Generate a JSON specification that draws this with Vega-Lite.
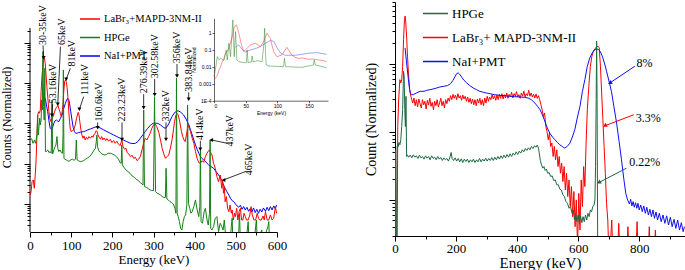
{
"$schema": "https://vega.github.io/schema/vega-lite/v6.json",
"padding": {"left": 0, "top": 0, "right": 2, "bottom": 0},
"bounds": "flush",
"spacing": 118,
"config": {
  "font": "Liberation Serif",
  "view": {"stroke": null},
  "axis": {"labelFont": "Liberation Serif", "titleFont": "Liberation Serif", "titleFontWeight": "normal", "labelFontWeight": "normal", "labelColor": "black", "titleColor": "black", "domainColor": "black", "tickColor": "black", "grid": false},
  "legend": {"labelFont": "Liberation Serif", "labelColor": "black"}
},
"resolve": {"scale": {"color": "independent"}, "legend": {"color": "independent"}},
"datasets": {
  "lRed": [
{"E":1,"v":0.000167},{"E":3,"v":0.000223},{"E":5,"v":0.000359},{"E":8,"v":0.000395},{"E":10.5,"v":0.000245},{"E":13,"v":0.000578},{"E":15,"v":0.00136},{"E":17,"v":0.0057},{"E":19,"v":0.0163},{"E":21,"v":0.0196},{"E":23,"v":0.0179},{"E":25,"v":0.0216},{"E":27,"v":0.0617},{"E":29,"v":0.146},{"E":31.5,"v":0.284},{"E":33,"v":0.378},{"E":35,"v":0.416},{"E":37,"v":0.313},{"E":39,"v":0.16},{"E":41,"v":0.0822},{"E":44,"v":0.0349},{"E":46,"v":0.0196},{"E":48,"v":0.0135},{"E":51,"v":0.0111},{"E":53,"v":0.0122},{"E":55,"v":0.0143},{"E":57.5,"v":0.0163},{"E":61,"v":0.0216},{"E":64,"v":0.0248},{"E":68,"v":0.0278},{"E":72,"v":0.0204},{"E":76,"v":0.0148},{"E":78,"v":0.0196},{"E":80,"v":0.0288},{"E":82,"v":0.0617},{"E":84,"v":0.109},{"E":86,"v":0.12},{"E":88,"v":0.109},{"E":90,"v":0.0792},{"E":92,"v":0.0464},{"E":94,"v":0.0216},{"E":96,"v":0.0111},{"E":98,"v":0.00716},{"E":100,"v":0.00627},{"E":103,"v":0.00664},{"E":106,"v":0.0069},{"E":110,"v":0.00919},{"E":113,"v":0.0135},{"E":117,"v":0.0189},{"E":119,"v":0.0163},{"E":121,"v":0.0111},{"E":124,"v":0.00664},{"E":126,"v":0.00518},{"E":129,"v":0.00429},{"E":131,"v":0.0049},{"E":134,"v":0.00389},{"E":137,"v":0.00454},{"E":140,"v":0.00405},{"E":143,"v":0.00471},{"E":147,"v":0.00429},{"E":150,"v":0.0049},{"E":153,"v":0.00454},{"E":155,"v":0.00518},{"E":158,"v":0.0057},{"E":161,"v":0.00664},{"E":163,"v":0.00627},{"E":165,"v":0.00518},{"E":168,"v":0.00454},{"E":171,"v":0.00405},{"E":174,"v":0.00471},{"E":177,"v":0.00389},{"E":180,"v":0.00437},{"E":184,"v":0.00375},{"E":187,"v":0.00421},{"E":191,"v":0.00361},{"E":195,"v":0.00405},{"E":199,"v":0.00334},{"E":203,"v":0.00375},{"E":207,"v":0.00322},{"E":211,"v":0.00361},{"E":215,"v":0.00304},{"E":219,"v":0.00282},{"E":223,"v":0.00389},{"E":226,"v":0.00266},{"E":230,"v":0.00228},{"E":233,"v":0.00242},{"E":236,"v":0.00189},{"E":240,"v":0.00175},{"E":244,"v":0.0015},{"E":248,"v":0.00162},{"E":252,"v":0.00136},{"E":256,"v":0.00144},{"E":260,"v":0.00119},{"E":264,"v":0.00129},{"E":268,"v":0.0015},{"E":272,"v":0.0022},{"E":276,"v":0.00322},{"E":280,"v":0.00429},{"E":284,"v":0.00389},{"E":288,"v":0.00471},{"E":292,"v":0.0057},{"E":296,"v":0.00758},{"E":300,"v":0.00919},{"E":304,"v":0.00973},{"E":308,"v":0.00834},{"E":313,"v":0.00592},{"E":317,"v":0.00389},{"E":321,"v":0.00242},{"E":325,"v":0.00175},{"E":329,"v":0.00136},{"E":333,"v":0.0015},{"E":337,"v":0.00165},{"E":341,"v":0.00242},{"E":345,"v":0.00389},{"E":349,"v":0.00758},{"E":351,"v":0.0111},{"E":354,"v":0.0154},{"E":357,"v":0.0179},{"E":360,"v":0.0163},{"E":363,"v":0.0122},{"E":365,"v":0.00919},{"E":368,"v":0.00627},{"E":371,"v":0.00471},{"E":374,"v":0.00389},{"E":377,"v":0.00354},{"E":380,"v":0.00518},{"E":384,"v":0.00919},{"E":387,"v":0.00758},{"E":390,"v":0.00627},{"E":394,"v":0.00429},{"E":398,"v":0.00322},{"E":402,"v":0.002},{"E":406,"v":0.00136},{"E":410,"v":0.00106},{"E":414,"v":0.00102},{"E":418,"v":0.00119},{"E":422,"v":0.00108},{"E":426,"v":0.0015},{"E":430,"v":0.00182},{"E":434,"v":0.00212},{"E":436,"v":0.0022},{"E":439,"v":0.00189},{"E":442,"v":0.00165},{"E":446,"v":0.00102},{"E":450,"v":0.00077},{"E":454,"v":0.000478},{"E":458,"v":0.000359},{"E":462,"v":0.000525},{"E":466,"v":0.000245},{"E":468,"v":0.000395},{"E":470,"v":0.000184},{"E":472,"v":0.00027},{"E":474,"v":0.000114},{"E":477,"v":0.000152},{"E":480,"v":0.000078},{"E":483,"v":0.0000645},{"E":486,"v":0.0000946},{"E":489,"v":0.0000587},{"E":491,"v":0.000071},{"E":494,"v":0.00004},{"E":497,"v":0.0000587},{"E":499,"v":0.0000485},{"E":502,"v":0.000078},{"E":505,"v":0.00004},{"E":508,"v":0.0000645},{"E":511,"v":0.000078},{"E":514,"v":0.00004},{"E":517,"v":0.00004},{"E":520,"v":0.0000587},{"E":523,"v":0.0000485},{"E":526,"v":0.00004},{"E":530,"v":0.00004},{"E":534,"v":0.0000533},{"E":537,"v":0.0000859},{"E":540,"v":0.0000533},{"E":544,"v":0.00004},{"E":548,"v":0.00004},{"E":552,"v":0.0000587},{"E":555,"v":0.0000441},{"E":558,"v":0.00004},{"E":562,"v":0.00004},{"E":566,"v":0.0000504},{"E":569,"v":0.00004},{"E":572,"v":0.0000645},{"E":576,"v":0.00004},{"E":580,"v":0.00004},{"E":584,"v":0.0000533},{"E":588,"v":0.00004},{"E":592,"v":0.0000441},{"E":596,"v":0.0000859},{"E":599,"v":0.0000587}
  ],
  "lBlue": [
{"E":37,"v":0.0422},{"E":40,"v":0.0288},{"E":43,"v":0.0196},{"E":46,"v":0.0117},{"E":49,"v":0.00758},{"E":53,"v":0.0069},{"E":56,"v":0.00868},{"E":58,"v":0.0101},{"E":61,"v":0.0117},{"E":64,"v":0.0122},{"E":67,"v":0.0115},{"E":70,"v":0.0111},{"E":74,"v":0.0135},{"E":78,"v":0.0163},{"E":82,"v":0.0238},{"E":86,"v":0.0317},{"E":89,"v":0.0384},{"E":91.5,"v":0.0422},{"E":94,"v":0.0398},{"E":96,"v":0.0317},{"E":99,"v":0.0196},{"E":102,"v":0.0122},{"E":105,"v":0.00788},{"E":108,"v":0.00627},{"E":111,"v":0.0057},{"E":114,"v":0.0057},{"E":118,"v":0.00592},{"E":122,"v":0.00604},{"E":126,"v":0.00615},{"E":130,"v":0.00627},{"E":135,"v":0.00652},{"E":140,"v":0.0069},{"E":147,"v":0.0073},{"E":155,"v":0.00788},{"E":160,"v":0.00819},{"E":163,"v":0.00834},{"E":167,"v":0.00804},{"E":172,"v":0.00758},{"E":179,"v":0.0069},{"E":187,"v":0.00627},{"E":195,"v":0.0057},{"E":203,"v":0.00518},{"E":211,"v":0.00471},{"E":219,"v":0.00429},{"E":227,"v":0.00389},{"E":235,"v":0.00354},{"E":244,"v":0.00322},{"E":250,"v":0.00316},{"E":256,"v":0.00322},{"E":262,"v":0.00354},{"E":268,"v":0.00429},{"E":274,"v":0.00518},{"E":280,"v":0.00627},{"E":286,"v":0.00758},{"E":292,"v":0.00885},{"E":296,"v":0.00973},{"E":300,"v":0.0101},{"E":305,"v":0.0101},{"E":309,"v":0.0101},{"E":313,"v":0.00973},{"E":317,"v":0.00919},{"E":321,"v":0.0085},{"E":325,"v":0.00788},{"E":329,"v":0.00758},{"E":333,"v":0.00834},{"E":337,"v":0.00973},{"E":341,"v":0.0122},{"E":345,"v":0.0148},{"E":349,"v":0.0172},{"E":353,"v":0.0193},{"E":357,"v":0.0204},{"E":361,"v":0.0204},{"E":365,"v":0.0193},{"E":369,"v":0.0179},{"E":373,"v":0.0163},{"E":378,"v":0.0135},{"E":382,"v":0.0111},{"E":386,"v":0.00919},{"E":390,"v":0.0069},{"E":394,"v":0.00518},{"E":398,"v":0.00389},{"E":402,"v":0.00292},{"E":406,"v":0.00228},{"E":410,"v":0.00182},{"E":414,"v":0.0015},{"E":418,"v":0.00134},{"E":422,"v":0.00124},{"E":426,"v":0.00115},{"E":430,"v":0.00102},{"E":434,"v":0.000931},{"E":438,"v":0.000881},{"E":442,"v":0.000815},{"E":446,"v":0.00077},{"E":450,"v":0.000673},{"E":454,"v":0.0006},{"E":458,"v":0.000525},{"E":462,"v":0.000451},{"E":466,"v":0.00038},{"E":470,"v":0.000296},{"E":474,"v":0.000245},{"E":478,"v":0.000203},{"E":483,"v":0.000167},{"E":487,"v":0.000138},{"E":491,"v":0.000121},{"E":495,"v":0.000114},{"E":499,"v":0.0001},{"E":503,"v":0.0000893},{"E":507,"v":0.0000827},{"E":511,"v":0.0000929},{"E":515,"v":0.0000737},{"E":519,"v":0.0000859},{"E":523,"v":0.000071},{"E":527,"v":0.0000827},{"E":531,"v":0.0000657},{"E":535,"v":0.0000765},{"E":539,"v":0.0000633},{"E":543,"v":0.0000795},{"E":547,"v":0.0000609},{"E":551,"v":0.0000737},{"E":555,"v":0.0000587},{"E":559,"v":0.0000737},{"E":563,"v":0.0000633},{"E":567,"v":0.0000795},{"E":572,"v":0.0000657},{"E":576,"v":0.0000827},{"E":580,"v":0.0000683},{"E":584,"v":0.0000859},{"E":588,"v":0.000071},{"E":592,"v":0.0000893},{"E":596,"v":0.0000765},{"E":599,"v":0.0000946}
  ],
  "lGreen": [
{"E":3,"v":0.00429},{"E":5,"v":0.00389},{"E":7,"v":0.00322},{"E":9,"v":0.00354},{"E":11,"v":0.00389},{"E":13,"v":0.00322},{"E":15,"v":0.00389},{"E":17,"v":0.00518},{"E":18.5,"v":0.0163},{"E":20,"v":0.00518},{"E":22,"v":0.00834},{"E":23.5,"v":0.0135},{"E":25,"v":0.00919},{"E":27,"v":0.0122},{"E":28.5,"v":0.0384},{"E":30,"v":0.0216},{"E":31.5,"v":0.609},{"E":33,"v":0.0262},{"E":34.5,"v":0.0122},{"E":36,"v":0.235},{"E":37.5,"v":0.002},{"E":40,"v":0.002},{"E":43,"v":0.0022},{"E":46,"v":0.00189},{"E":49,"v":0.002},{"E":51.5,"v":0.00182},{"E":53.3,"v":0.0384},{"E":55,"v":0.00175},{"E":58,"v":0.0022},{"E":61,"v":0.00266},{"E":63,"v":0.00292},{"E":65.5,"v":0.00471},{"E":67.5,"v":0.00242},{"E":70,"v":0.002},{"E":73,"v":0.0022},{"E":76,"v":0.00189},{"E":79,"v":0.00182},{"E":80.3,"v":0.0057},{"E":81,"v":0.213},{"E":82.5,"v":0.00136},{"E":85,"v":0.00129},{"E":88,"v":0.00124},{"E":91,"v":0.00119},{"E":95,"v":0.00115},{"E":99,"v":0.00124},{"E":103,"v":0.00129},{"E":107,"v":0.00122},{"E":110.5,"v":0.00129},{"E":112.5,"v":0.00389},{"E":114.5,"v":0.00124},{"E":118,"v":0.00119},{"E":122,"v":0.00112},{"E":126,"v":0.00115},{"E":130,"v":0.00119},{"E":135,"v":0.00129},{"E":140,"v":0.00139},{"E":145,"v":0.0015},{"E":150,"v":0.00175},{"E":155,"v":0.00212},{"E":159,"v":0.00242},{"E":161,"v":0.00354},{"E":162.5,"v":0.00518},{"E":164,"v":0.00266},{"E":167,"v":0.00212},{"E":171,"v":0.00189},{"E":175,"v":0.00175},{"E":180,"v":0.00165},{"E":185,"v":0.00168},{"E":190,"v":0.00182},{"E":195,"v":0.00182},{"E":200,"v":0.00175},{"E":205,"v":0.00165},{"E":210,"v":0.0015},{"E":215,"v":0.00129},{"E":219,"v":0.00106},{"E":221.5,"v":0.00102},{"E":223,"v":0.00292},{"E":224.5,"v":0.000931},{"E":228,"v":0.000815},{"E":233,"v":0.0007},{"E":238,"v":0.000636},{"E":243,"v":0.000578},{"E":248,"v":0.000496},{"E":253,"v":0.00046},{"E":258,"v":0.00041},{"E":263,"v":0.00038},{"E":268,"v":0.000339},{"E":272,"v":0.000314},{"E":274.5,"v":0.000296},{"E":276.2,"v":0.0216},{"E":278,"v":0.00027},{"E":282,"v":0.00026},{"E":287,"v":0.000241},{"E":292,"v":0.000223},{"E":296,"v":0.000215},{"E":300,"v":0.000215},{"E":302.5,"v":0.0464},{"E":305,"v":0.000203},{"E":309,"v":0.000184},{"E":313,"v":0.000177},{"E":317,"v":0.000167},{"E":321,"v":0.000152},{"E":325,"v":0.000146},{"E":329,"v":0.000146},{"E":330.5,"v":0.00077},{"E":332.5,"v":0.000133},{"E":336,"v":0.000126},{"E":340,"v":0.000114},{"E":344,"v":0.000108},{"E":348,"v":0.0001},{"E":352,"v":0.000078},{"E":354.5,"v":0.0000587},{"E":355.8,"v":0.133},{"E":357.5,"v":0.0000587},{"E":360,"v":0.0000485},{"E":363,"v":0.0000364},{"E":366,"v":0.0000248},{"E":369,"v":0.0000226},{"E":372,"v":0.0000364},{"E":375,"v":0.0000485},{"E":378,"v":0.0000533},{"E":381,"v":0.0000946},{"E":382.8,"v":0.0288},{"E":385,"v":0.000104},{"E":388,"v":0.000078},{"E":391,"v":0.0000587},{"E":394,"v":0.0000645},{"E":398,"v":0.0000859},{"E":402,"v":0.000126},{"E":406,"v":0.000071},{"E":410,"v":0.0000485},{"E":412.5,"v":0.0000859},{"E":414,"v":0.00242},{"E":415.5,"v":0.0000364},{"E":419,"v":0.0000331},{"E":423,"v":0.0000645},{"E":426,"v":0.000078},{"E":430,"v":0.00004},{"E":433,"v":0.00003},{"E":436,"v":0.0000587},{"E":437.5,"v":0.00389},{"E":439,"v":0.0000248},{"E":442,"v":0.0000226},{"E":446,"v":0.0000274},{"E":450,"v":0.0000441},{"E":454,"v":0.0000485},{"E":458,"v":0.0000205},{"E":462,"v":0.0000331},{"E":466,"v":0.0000274},{"E":469,"v":0.0000226},{"E":472,"v":0.00004},{"E":475,"v":0.000017},{"E":478,"v":0.0000187},{"E":482,"v":0.000011},{"E":486,"v":0.000011},{"E":489,"v":0.0000274},{"E":491,"v":0.0000441},{"E":493,"v":0.000011},{"E":503,"v":0.000011},{"E":507,"v":0.0000187},{"E":509,"v":0.0000587},{"E":511,"v":0.000011},{"E":527,"v":0.0000187},{"E":530,"v":0.0000364},{"E":532,"v":0.000011},{"E":545,"v":0.000011},{"E":548,"v":0.0000274},{"E":550,"v":0.00004},{"E":552,"v":0.000011},{"E":563,"v":0.0000226},{"E":565,"v":0.000011},{"E":578,"v":0.0000274},{"E":580,"v":0.0000364},{"E":582,"v":0.000011},{"E":599,"v":0.000011}
  ],
  "lAxisLine": [{"E":0,"v":0.0000201,"v2":2.36}],
  "lLabels": [
{"label":"30-35keV","E":31.6,"v":0.89},{"label":"53.16keV","E":56,"v":0.0317},{"label":"65keV","E":77.7,"v":0.89},{"label":"81keV","E":102,"v":0.258},{"label":"111keV","E":134.4,"v":0.0507},{"label":"160.6keV","E":166.8,"v":0.0111},{"label":"223.23keV","E":223.5,"v":0.0111},{"label":"276.39keV","E":276.1,"v":0.0561},{"label":"302.58keV","E":302.8,"v":0.133},{"label":"332keV","E":330.4,"v":0.0111},{"label":"356keV","E":357.1,"v":0.313},{"label":"383.84keV","E":385.4,"v":0.0617},{"label":"414keV","E":413.8,"v":0.00389},{"label":"437keV","E":486.6,"v":0.00266},{"label":"465keV","E":531.2,"v":0.00052}
  ],
  "lArrows": [
{"E":31.6,"v":0.87,"E2":33.2,"v2":0.43},{"E":55,"v":0.0303,"E2":53.4,"v2":0.016},{"E":74,"v":0.811,"E2":67.5,"v2":0.03},{"E":98,"v":0.235,"E2":88,"v2":0.125},{"E":130.4,"v":0.0464,"E2":120,"v2":0.0225},{"E":164.4,"v":0.0106,"E2":164.4,"v2":0.0078},{"E":223.5,"v":0.0106,"E2":223.5,"v2":0.004},{"E":276.1,"v":0.0535,"E2":276.1,"v2":0.0245},{"E":302.8,"v":0.127,"E2":302.8,"v2":0.052},{"E":330.4,"v":0.0106,"E2":330.4,"v2":0.004},{"E":357.1,"v":0.299,"E2":357.1,"v2":0.15},{"E":385.4,"v":0.059,"E2":385.4,"v2":0.04},{"E":413.8,"v":0.0037,"E2":413.8,"v2":0.0023},{"E":478.5,"v":0.00322,"E2":440.5,"v2":0.00389},{"E":523.1,"v":0.000637,"E2":470.4,"v2":0.000395}
  ],
  "lHeadsDown": [
{"E":33.2,"v":0.43},{"E":53.4,"v":0.016},{"E":67.5,"v":0.03},{"E":88,"v":0.125},{"E":120,"v":0.0225},{"E":164.4,"v":0.0078},{"E":223.5,"v":0.004},{"E":276.1,"v":0.0245},{"E":302.8,"v":0.052},{"E":330.4,"v":0.004},{"E":357.1,"v":0.15},{"E":385.4,"v":0.04},{"E":413.8,"v":0.0023}
  ],
  "lHeadsLeft": [{"E":440.5,"v":0.00389},{"E":470.4,"v":0.000395}],
  "iRed": [
{"E":0,"v":0.00164},{"E":3.7,"v":0.00258},{"E":6,"v":0.0035},{"E":7.8,"v":0.00637},{"E":10,"v":0.009},{"E":13.1,"v":0.0197},{"E":15.5,"v":0.03},{"E":18.3,"v":0.0608},{"E":21,"v":0.08},{"E":23.5,"v":0.12},{"E":26,"v":0.25},{"E":28.8,"v":0.582},{"E":32.4,"v":2.25},{"E":35.5,"v":2.83},{"E":39.2,"v":0.914},{"E":43.4,"v":0.188},{"E":47,"v":0.0762},{"E":52.3,"v":0.12},{"E":57.5,"v":0.188},{"E":65.3,"v":0.236},{"E":73.2,"v":0.15},{"E":78.4,"v":0.296},{"E":83.6,"v":0.914},{"E":88.9,"v":0.464},{"E":94.1,"v":0.0762},{"E":99.3,"v":0.0387},{"E":107.2,"v":0.0486},{"E":115,"v":0.137},{"E":122.8,"v":0.0486},{"E":128,"v":0.035},{"E":133.3,"v":0.0309},{"E":140,"v":0.032},{"E":149,"v":0.027},{"E":157,"v":0.028},{"E":164.7,"v":0.0247},{"E":172,"v":0.023},{"E":177.7,"v":0.0197}
  ],
  "iBlue": [
{"E":34,"v":0.137},{"E":39.2,"v":0.188},{"E":44.4,"v":0.105},{"E":49.7,"v":0.0729},{"E":57.5,"v":0.0955},{"E":65.3,"v":0.115},{"E":73.2,"v":0.15},{"E":81,"v":0.236},{"E":88.9,"v":0.338},{"E":94.1,"v":0.309},{"E":99.3,"v":0.137},{"E":104.5,"v":0.0666},{"E":112.4,"v":0.0464},{"E":128,"v":0.0464},{"E":149,"v":0.0608},{"E":162,"v":0.0666},{"E":177.7,"v":0.0531}
  ],
  "iGreen": [
{"E":0,"v":0.00259},{"E":2.6,"v":0.00798},{"E":5.2,"v":0.0387},{"E":7.8,"v":0.0247},{"E":10.5,"v":0.0309},{"E":15.7,"v":0.0225},{"E":19.3,"v":0.0955},{"E":21,"v":0.0247},{"E":23.5,"v":0.236},{"E":26.1,"v":0.0387},{"E":29.8,"v":5.56},{"E":31.9,"v":0.0387},{"E":34,"v":1.15},{"E":36.1,"v":0.0247},{"E":39.2,"v":0.0197},{"E":47,"v":0.0172},{"E":51.2,"v":0.0172},{"E":52.3,"v":0.0955},{"E":53.8,"v":0.0172},{"E":59,"v":0.0187},{"E":60.1,"v":0.0424},{"E":61.7,"v":0.0187},{"E":68,"v":0.0225},{"E":75.8,"v":0.0197},{"E":78.9,"v":0.236},{"E":80,"v":1.8},{"E":81.5,"v":0.0387},{"E":82.6,"v":0.0125},{"E":86.3,"v":0.0109},{"E":109.8,"v":0.01},{"E":111.3,"v":0.0309},{"E":112.9,"v":0.01},{"E":138.5,"v":0.00914},{"E":156.8,"v":0.0125},{"E":158.4,"v":0.0247},{"E":160,"v":0.0125},{"E":177.7,"v":0.00873}
  ],
  "rRed": [
{"E":1,"v":0.002},{"E":2,"v":0.0546},{"E":3.5,"v":0.002},{"E":7,"v":0.002},{"E":9,"v":0.12},{"E":12,"v":0.298},{"E":16,"v":0.587},{"E":19,"v":0.525},{"E":22,"v":0.587},{"E":25,"v":0.924},{"E":28,"v":2.29},{"E":31,"v":4.5},{"E":33,"v":5.05},{"E":35,"v":4.25},{"E":38,"v":2.56},{"E":41,"v":1.3},{"E":44,"v":0.737},{"E":48,"v":0.418},{"E":52,"v":0.334},{"E":55,"v":0.298},{"E":58,"v":0.266},{"E":62,"v":0.315},{"E":66,"v":0.243},{"E":70,"v":0.298},{"E":74,"v":0.232},{"E":78,"v":0.305},{"E":82,"v":0.26},{"E":86,"v":0.225},{"E":90,"v":0.298},{"E":94,"v":0.251},{"E":98,"v":0.282},{"E":102,"v":0.217},{"E":106,"v":0.292},{"E":110,"v":0.248},{"E":114,"v":0.312},{"E":118,"v":0.238},{"E":122,"v":0.272},{"E":126,"v":0.212},{"E":130,"v":0.282},{"E":134,"v":0.243},{"E":138,"v":0.298},{"E":142,"v":0.232},{"E":146,"v":0.266},{"E":150,"v":0.312},{"E":154,"v":0.243},{"E":158,"v":0.282},{"E":162,"v":0.225},{"E":166,"v":0.298},{"E":170,"v":0.26},{"E":174,"v":0.315},{"E":178,"v":0.282},{"E":182,"v":0.341},{"E":186,"v":0.298},{"E":190,"v":0.357},{"E":194,"v":0.312},{"E":198,"v":0.349},{"E":202,"v":0.298},{"E":206,"v":0.365},{"E":210,"v":0.315},{"E":214,"v":0.341},{"E":218,"v":0.292},{"E":222,"v":0.349},{"E":226,"v":0.305},{"E":230,"v":0.334},{"E":234,"v":0.282},{"E":238,"v":0.326},{"E":242,"v":0.272},{"E":246,"v":0.312},{"E":250,"v":0.26},{"E":254,"v":0.305},{"E":258,"v":0.251},{"E":262,"v":0.298},{"E":266,"v":0.243},{"E":270,"v":0.305},{"E":274,"v":0.266},{"E":278,"v":0.312},{"E":282,"v":0.251},{"E":286,"v":0.298},{"E":290,"v":0.243},{"E":294,"v":0.315},{"E":298,"v":0.266},{"E":302,"v":0.334},{"E":306,"v":0.282},{"E":310,"v":0.326},{"E":314,"v":0.298},{"E":318,"v":0.353},{"E":322,"v":0.305},{"E":326,"v":0.341},{"E":330,"v":0.292},{"E":334,"v":0.349},{"E":338,"v":0.298},{"E":342,"v":0.357},{"E":346,"v":0.312},{"E":350,"v":0.365},{"E":354,"v":0.305},{"E":358,"v":0.353},{"E":362,"v":0.315},{"E":366,"v":0.373},{"E":370,"v":0.312},{"E":374,"v":0.357},{"E":378,"v":0.326},{"E":382,"v":0.382},{"E":386,"v":0.315},{"E":390,"v":0.365},{"E":394,"v":0.334},{"E":398,"v":0.391},{"E":402,"v":0.326},{"E":406,"v":0.353},{"E":410,"v":0.312},{"E":414,"v":0.373},{"E":418,"v":0.334},{"E":422,"v":0.4},{"E":426,"v":0.326},{"E":430,"v":0.365},{"E":434,"v":0.341},{"E":438,"v":0.409},{"E":442,"v":0.334},{"E":446,"v":0.373},{"E":450,"v":0.326},{"E":454,"v":0.357},{"E":458,"v":0.315},{"E":462,"v":0.361},{"E":466,"v":0.312},{"E":470,"v":0.341},{"E":474,"v":0.298},{"E":478,"v":0.251},{"E":482,"v":0.212},{"E":486,"v":0.169},{"E":490,"v":0.19},{"E":494,"v":0.12},{"E":498,"v":0.102},{"E":502,"v":0.0767},{"E":506,"v":0.0961},{"E":510,"v":0.0611},{"E":514,"v":0.0685},{"E":518,"v":0.0435},{"E":522,"v":0.0611},{"E":526,"v":0.0389},{"E":530,"v":0.0546},{"E":534,"v":0.031},{"E":538,"v":0.0435},{"E":542,"v":0.0247},{"E":546,"v":0.0347},{"E":550,"v":0.0186},{"E":554,"v":0.031},{"E":558,"v":0.014},{"E":562,"v":0.0247},{"E":566,"v":0.0112},{"E":570,"v":0.0197},{"E":574,"v":0.00798},{"E":578,"v":0.0157},{"E":582,"v":0.00568},{"E":586,"v":0.0133},{"E":590,"v":0.00404},{"E":594,"v":0.01},{"E":598,"v":0.002},{"E":602,"v":0.0125},{"E":606,"v":0.00361},{"E":610,"v":0.0197},{"E":614,"v":0.00798},{"E":618,"v":0.031},{"E":622,"v":0.0157},{"E":626,"v":0.0685},{"E":630,"v":0.212},{"E":635,"v":0.469},{"E":640,"v":0.924},{"E":645,"v":1.3},{"E":650,"v":1.54},{"E":655,"v":1.66},{"E":660,"v":1.78},{"E":665,"v":1.82},{"E":669,"v":1.72},{"E":673,"v":0.924},{"E":677,"v":0.373},{"E":681,"v":0.151},{"E":685,"v":0.0611},{"E":689,"v":0.0247},{"E":693,"v":0.00893},{"E":697,"v":0.00507},{"E":700,"v":0.002},{"E":705,"v":0.002},{"E":710,"v":0.00507},{"E":713,"v":0.002},{"E":730,"v":0.002},{"E":733,"v":0.00453},{"E":736,"v":0.002},{"E":760,"v":0.002},{"E":763,"v":0.00404},{"E":766,"v":0.002},{"E":790,"v":0.002},{"E":793,"v":0.00479},{"E":796,"v":0.002},{"E":830,"v":0.002},{"E":833,"v":0.00404},{"E":836,"v":0.002},{"E":850,"v":0.002},{"E":853,"v":0.00361},{"E":856,"v":0.002},{"E":890,"v":0.002}
  ],
  "rBlue": [
{"E":33,"v":1.72},{"E":38,"v":1.03},{"E":44,"v":0.587},{"E":48,"v":0.418},{"E":51,"v":0.365},{"E":55,"v":0.353},{"E":60,"v":0.353},{"E":70,"v":0.373},{"E":82,"v":0.395},{"E":95,"v":0.395},{"E":104,"v":0.409},{"E":115,"v":0.418},{"E":125,"v":0.428},{"E":137,"v":0.443},{"E":147,"v":0.458},{"E":160,"v":0.469},{"E":172,"v":0.48},{"E":182,"v":0.513},{"E":190,"v":0.574},{"E":196,"v":0.643},{"E":202,"v":0.72},{"E":207,"v":0.737},{"E":212,"v":0.704},{"E":218,"v":0.643},{"E":226,"v":0.574},{"E":235,"v":0.525},{"E":245,"v":0.48},{"E":256,"v":0.443},{"E":267,"v":0.418},{"E":278,"v":0.395},{"E":290,"v":0.382},{"E":300,"v":0.373},{"E":311,"v":0.365},{"E":325,"v":0.353},{"E":344,"v":0.345},{"E":360,"v":0.341},{"E":376,"v":0.334},{"E":392,"v":0.33},{"E":409,"v":0.326},{"E":424,"v":0.322},{"E":436,"v":0.315},{"E":447,"v":0.298},{"E":458,"v":0.266},{"E":467,"v":0.238},{"E":475,"v":0.212},{"E":483,"v":0.179},{"E":491,"v":0.143},{"E":499,"v":0.114},{"E":507,"v":0.0961},{"E":516,"v":0.084},{"E":524,"v":0.0767},{"E":532,"v":0.07},{"E":540,"v":0.0647},{"E":548,"v":0.0611},{"E":556,"v":0.0578},{"E":564,"v":0.0611},{"E":573,"v":0.0685},{"E":581,"v":0.084},{"E":589,"v":0.108},{"E":597,"v":0.16},{"E":606,"v":0.238},{"E":614,"v":0.395},{"E":622,"v":0.587},{"E":630,"v":0.924},{"E":638,"v":1.22},{"E":646,"v":1.45},{"E":655,"v":1.63},{"E":661,"v":1.66},{"E":666,"v":1.63},{"E":672,"v":1.54},{"E":679,"v":1.3},{"E":686,"v":1.03},{"E":693,"v":0.78},{"E":701,"v":0.556},{"E":709,"v":0.395},{"E":717,"v":0.238},{"E":726,"v":0.135},{"E":734,"v":0.0726},{"E":742,"v":0.0389},{"E":750,"v":0.0197},{"E":756,"v":0.0125},{"E":762,"v":0.01},{"E":768,"v":0.00871},{"E":772,"v":0.0102},{"E":776,"v":0.00816},{"E":780,"v":0.00944},{"E":784,"v":0.0078},{"E":788,"v":0.00913},{"E":792,"v":0.00754},{"E":796,"v":0.00893},{"E":800,"v":0.00713},{"E":805,"v":0.00843},{"E":810,"v":0.00673},{"E":815,"v":0.00816},{"E":820,"v":0.00636},{"E":825,"v":0.0078},{"E":830,"v":0.00601},{"E":835,"v":0.00729},{"E":840,"v":0.00568},{"E":845,"v":0.00713},{"E":850,"v":0.00537},{"E":855,"v":0.00666},{"E":860,"v":0.00507},{"E":866,"v":0.00636},{"E":872,"v":0.00479},{"E":878,"v":0.00601},{"E":884,"v":0.00453},{"E":890,"v":0.00584},{"E":896,"v":0.00428},{"E":902,"v":0.00555},{"E":908,"v":0.00404},{"E":914,"v":0.00519},{"E":920,"v":0.00382},{"E":926,"v":0.00507},{"E":932,"v":0.00361},{"E":938,"v":0.00463},{"E":944,"v":0.00341},{"E":948,"v":0.00404}
  ],
  "rGreen": [
{"E":5,"v":0.002},{"E":7,"v":0.0611},{"E":9,"v":0.067},{"E":11,"v":0.0611},{"E":13,"v":0.07},{"E":16,"v":0.0647},{"E":19,"v":0.0767},{"E":22,"v":0.12},{"E":25,"v":0.212},{"E":28,"v":0.78},{"E":30,"v":0.658},{"E":32,"v":0.212},{"E":34,"v":0.12},{"E":36,"v":0.334},{"E":38,"v":0.0435},{"E":40,"v":0.0461},{"E":45,"v":0.0425},{"E":50,"v":0.0456},{"E":55,"v":0.0416},{"E":60,"v":0.0461},{"E":65,"v":0.0425},{"E":70,"v":0.0445},{"E":75,"v":0.0407},{"E":80,"v":0.0456},{"E":85,"v":0.0416},{"E":90,"v":0.0435},{"E":95,"v":0.0398},{"E":100,"v":0.0445},{"E":105,"v":0.0411},{"E":110,"v":0.0435},{"E":115,"v":0.0389},{"E":120,"v":0.0445},{"E":125,"v":0.0407},{"E":130,"v":0.0425},{"E":135,"v":0.0389},{"E":140,"v":0.0435},{"E":145,"v":0.0398},{"E":150,"v":0.0421},{"E":155,"v":0.038},{"E":160,"v":0.0416},{"E":165,"v":0.0389},{"E":170,"v":0.0407},{"E":175,"v":0.0372},{"E":180,"v":0.0425},{"E":184,"v":0.0499},{"E":187,"v":0.0407},{"E":192,"v":0.038},{"E":197,"v":0.0416},{"E":202,"v":0.0372},{"E":207,"v":0.0407},{"E":212,"v":0.0363},{"E":217,"v":0.0402},{"E":222,"v":0.0355},{"E":227,"v":0.0398},{"E":232,"v":0.0367},{"E":237,"v":0.0398},{"E":242,"v":0.0355},{"E":247,"v":0.0389},{"E":252,"v":0.0363},{"E":257,"v":0.0398},{"E":262,"v":0.0355},{"E":267,"v":0.0389},{"E":272,"v":0.0363},{"E":277,"v":0.0407},{"E":282,"v":0.0363},{"E":287,"v":0.0398},{"E":292,"v":0.0372},{"E":297,"v":0.0411},{"E":302,"v":0.0372},{"E":307,"v":0.0407},{"E":312,"v":0.038},{"E":317,"v":0.0421},{"E":322,"v":0.038},{"E":327,"v":0.0425},{"E":332,"v":0.0389},{"E":337,"v":0.0435},{"E":342,"v":0.0398},{"E":347,"v":0.0445},{"E":352,"v":0.0407},{"E":357,"v":0.0456},{"E":362,"v":0.0416},{"E":367,"v":0.0466},{"E":372,"v":0.0425},{"E":377,"v":0.0477},{"E":382,"v":0.0435},{"E":387,"v":0.0488},{"E":392,"v":0.0456},{"E":397,"v":0.051},{"E":402,"v":0.0466},{"E":407,"v":0.0522},{"E":412,"v":0.0488},{"E":417,"v":0.0546},{"E":422,"v":0.051},{"E":427,"v":0.0571},{"E":432,"v":0.0534},{"E":437,"v":0.0584},{"E":442,"v":0.0546},{"E":447,"v":0.0611},{"E":452,"v":0.0571},{"E":457,"v":0.0625},{"E":462,"v":0.0597},{"E":466,"v":0.064},{"E":470,"v":0.0578},{"E":473,"v":0.0477},{"E":476,"v":0.038},{"E":480,"v":0.0328},{"E":484,"v":0.0293},{"E":488,"v":0.031},{"E":492,"v":0.0271},{"E":496,"v":0.0284},{"E":500,"v":0.0247},{"E":505,"v":0.0252},{"E":510,"v":0.0221},{"E":515,"v":0.0226},{"E":520,"v":0.0192},{"E":525,"v":0.0197},{"E":530,"v":0.0167},{"E":535,"v":0.0167},{"E":540,"v":0.0144},{"E":545,"v":0.014},{"E":550,"v":0.0119},{"E":555,"v":0.0112},{"E":560,"v":0.00946},{"E":565,"v":0.00893},{"E":570,"v":0.00754},{"E":575,"v":0.00798},{"E":580,"v":0.00636},{"E":584,"v":0.00713},{"E":588,"v":0.00507},{"E":592,"v":0.00636},{"E":596,"v":0.00479},{"E":600,"v":0.00601},{"E":604,"v":0.00453},{"E":608,"v":0.00584},{"E":612,"v":0.00463},{"E":616,"v":0.00568},{"E":620,"v":0.00479},{"E":624,"v":0.00601},{"E":628,"v":0.00507},{"E":632,"v":0.00636},{"E":636,"v":0.00568},{"E":640,"v":0.00713},{"E":644,"v":0.00673},{"E":648,"v":0.00798},{"E":652,"v":0.00843},{"E":655,"v":0.01},{"E":657,"v":0.031},{"E":659,"v":0.298},{"E":660.5,"v":2.16},{"E":662,"v":0.298},{"E":664,"v":0.002},{"E":950,"v":0.002}
  ],
  "rLabels": [{"label":"8%","E":791,"v":1.03},{"label":"3.3%","E":789,"v":0.16},{"label":"0.22%","E":767,"v":0.0359}],
  "rArrows": [
{"s":"NaI+PMT","E":785.6,"v":0.924,"E2":703.8,"v2":0.525},
{"s":"LaBr₃+ MAPD-3NM-II","E":782.3,"v":0.179,"E2":687.4,"v2":0.123},
{"s":"HPGe","E":758,"v":0.0293,"E2":667.8,"v2":0.018}
  ],
  "rHeads": [{"s":"NaI+PMT","E":703.8,"v":0.525},{"s":"LaBr₃+ MAPD-3NM-II","E":687.4,"v":0.123},{"s":"HPGe","E":667.8,"v":0.018}]
},
"hconcat": [
{
  "width": 247,
  "height": 230,
  "layer": [
    {
      "encoding": {
        "x": {"field": "E", "type": "quantitative", "title": "Energy (keV)",
          "scale": {"domain": [0, 600], "nice": false},
          "axis": {"orient": "bottom", "values": [0,50,100,150,200,250,300,350,400,450,500,550,600],
            "labelExpr": "datum.value % 100 === 0 ? datum.label : ''",
            "tickSize": {"condition": {"test": "datum.value % 100 === 0", "value": 5}, "value": 3},
            "labelFont": "Liberation Serif", "titleFont": "Liberation Serif", "titleFontWeight": "normal", "labelFontWeight": "normal",
            "labelFontSize": 13, "labelPadding": 2, "titleFontSize": 13, "titlePadding": 1, "labelFlush": false}},
        "y": {"field": "v", "type": "quantitative", "title": "Counts (Normalized)",
          "scale": {"type": "log", "domain": [0.0000201, 10.4], "nice": false},
          "axis": {"orient": "left", "domain": false, "labels": false,
            "values": [0.00003,0.00004,0.00005,0.00006,0.00007,0.00008,0.00009,0.0001,0.0002,0.0003,0.0004,0.0005,0.0006,0.0007,0.0008,0.0009,0.001,0.002,0.003,0.004,0.005,0.006,0.007,0.008,0.009,0.01,0.02,0.03,0.04,0.05,0.06,0.07,0.08,0.09,0.1,0.2,0.3,0.4,0.5,0.6,0.7,0.8,0.9,1,2],
            "tickSize": {"condition": {"test": "abs(log(datum.value)/LN10 - round(log(datum.value)/LN10)) < 0.01", "value": 6}, "value": 3},
            "titleFont": "Liberation Serif", "titleFontWeight": "normal",
            "titleFontSize": 12, "titlePadding": 10}}
      },
      "layer": [
        {"data": {"name": "lAxisLine"}, "mark": {"type": "rule", "color": "black", "strokeWidth": 1},
         "encoding": {"y2": {"field": "v2"}}},
        {"data": {"name": "lBlue"}, "mark": {"type": "line", "clip": true, "strokeWidth": 1},
         "encoding": {"color": {"datum": "NaI+PMT", "type": "nominal",
           "scale": {"domain": ["LaBr₃+MAPD-3NM-II", "HPGe", "NaI+PMT"], "range": ["#ff0000", "#138013", "#0000ff"]},
           "legend": {"title": null, "orient": "none", "legendX": 49, "legendY": 6, "symbolType": "stroke", "symbolSize": 400, "symbolStrokeWidth": 1.5, "labelFontSize": 10.5, "rowPadding": 1.5, "padding": 0, "labelOffset": 3}}}},
        {"data": {"name": "lRed"}, "mark": {"type": "line", "clip": true, "strokeWidth": 1},
         "encoding": {"color": {"datum": "LaBr₃+MAPD-3NM-II", "type": "nominal",
           "scale": {"domain": ["LaBr₃+MAPD-3NM-II", "HPGe", "NaI+PMT"], "range": ["#ff0000", "#138013", "#0000ff"]},
           "legend": {"title": null, "orient": "none", "legendX": 49, "legendY": 6, "symbolType": "stroke", "symbolSize": 400, "symbolStrokeWidth": 1.5, "labelFontSize": 10.5, "rowPadding": 1.5, "padding": 0, "labelOffset": 3}}}},
        {"data": {"name": "lGreen"}, "mark": {"type": "line", "clip": true, "strokeWidth": 1},
         "encoding": {"color": {"datum": "HPGe", "type": "nominal",
           "scale": {"domain": ["LaBr₃+MAPD-3NM-II", "HPGe", "NaI+PMT"], "range": ["#ff0000", "#138013", "#0000ff"]},
           "legend": {"title": null, "orient": "none", "legendX": 49, "legendY": 6, "symbolType": "stroke", "symbolSize": 400, "symbolStrokeWidth": 1.5, "labelFontSize": 10.5, "rowPadding": 1.5, "padding": 0, "labelOffset": 3}}}},
        {"data": {"name": "lArrows"}, "mark": {"type": "rule", "color": "black", "strokeWidth": 0.8},
         "encoding": {"x2": {"field": "E2"}, "y2": {"field": "v2"}}},
        {"data": {"name": "lHeadsDown"}, "mark": {"type": "point", "filled": true, "color": "black", "opacity": 1, "size": 16, "shape": "triangle-down"}},
        {"data": {"name": "lHeadsLeft"}, "mark": {"type": "point", "filled": true, "color": "black", "opacity": 1, "size": 16, "shape": "triangle-left"}},
        {"data": {"name": "lLabels"}, "mark": {"type": "text", "angle": 270, "align": "left", "baseline": "middle", "fontSize": 10, "font": "Liberation Serif", "color": "black"},
         "encoding": {"text": {"field": "label"}}}
      ]
    },
    {
      "encoding": {
        "x": {"field": "E", "type": "quantitative", "title": "Energy (keV)",
          "scale": {"domain": [0, 180], "range": [184, 298], "nice": false},
          "axis": {"orient": "bottom", "offset": -131.3, "values": [0, 50, 100, 150], "labelFontSize": 5, "labelFont": "Liberation Sans", "titleFont": "Liberation Sans", "titleFontWeight": "normal", "titleFontSize": 5, "tickSize": 2, "labelPadding": 1, "titlePadding": 2, "domainWidth": 0.6, "tickWidth": 0.6}},
        "y": {"field": "v", "type": "quantitative", "title": "Normalized",
          "scale": {"type": "log", "domain": [0.0001, 6.9], "range": [98.7, 16.3], "nice": false},
          "axis": {"orient": "left", "offset": -184, "values": [0.0001, 0.001, 0.01, 0.1, 1], "labelExpr": "datum.value < 0.0005 ? '1E-4' : format(datum.value, '~g')", "labelFontSize": 5, "labelFont": "Liberation Sans", "titleFont": "Liberation Sans", "titleFontWeight": "normal", "titleFontSize": 5, "tickSize": 2, "labelPadding": 1, "titlePadding": 2, "domainWidth": 0.6, "tickWidth": 0.6}}
      },
      "layer": [
        {"data": {"name": "iBlue"}, "mark": {"type": "line", "strokeWidth": 0.8, "opacity": 0.6, "color": "#3344ff"}},
        {"data": {"name": "iRed"}, "mark": {"type": "line", "strokeWidth": 0.8, "opacity": 0.6, "color": "#ff2020"}},
        {"data": {"name": "iGreen"}, "mark": {"type": "line", "strokeWidth": 0.8, "opacity": 0.6, "color": "#1a801a"}}
      ]
    }
  ],
  "resolve": {"scale": {"x": "independent", "y": "independent"}, "axis": {"x": "independent", "y": "independent"}}
},
{
  "width": 290,
  "height": 234,
  "encoding": {
    "x": {"field": "E", "type": "quantitative", "title": "Energy (keV)",
      "scale": {"domain": [0, 950], "nice": false},
      "axis": {"orient": "bottom", "values": [0,100,200,300,400,500,600,700,800,900],
        "labelExpr": "datum.value % 200 === 0 ? datum.label : ''",
        "tickSize": {"condition": {"test": "datum.value % 200 === 0", "value": 5}, "value": 3},
        "labelFont": "Liberation Serif", "titleFont": "Liberation Serif", "titleFontWeight": "normal", "labelFontWeight": "normal",
        "labelFontSize": 13, "labelPadding": 1, "titleFontSize": 15, "titlePadding": 0, "labelFlush": false}},
    "y": {"field": "v", "type": "quantitative", "title": "Count (Normalized)",
      "scale": {"type": "log", "domain": [0.00295, 8.13], "nice": false},
      "axis": {"orient": "left", "labels": false,
        "values": [0.003,0.004,0.005,0.006,0.007,0.008,0.009,0.01,0.02,0.03,0.04,0.05,0.06,0.07,0.08,0.09,0.1,0.2,0.3,0.4,0.5,0.6,0.7,0.8,0.9,1,2,3,4,5,6,7,8],
        "tickSize": {"condition": {"test": "abs(log(datum.value)/LN10 - round(log(datum.value)/LN10)) < 0.01", "value": 6}, "value": 3},
        "titleFont": "Liberation Serif", "titleFontWeight": "normal",
        "titleFontSize": 14, "titlePadding": 10}}
  },
  "layer": [
    {"data": {"name": "rRed"}, "mark": {"type": "line", "clip": true, "strokeWidth": 1},
     "encoding": {"color": {"datum": "LaBr₃+ MAPD-3NM-II", "type": "nominal",
       "scale": {"domain": ["HPGe", "LaBr₃+ MAPD-3NM-II", "NaI+PMT"], "range": ["#1d6b40", "#ff0000", "#1010ee"]},
       "legend": {"title": null, "orient": "none", "legendX": 27, "legendY": -2, "symbolType": "stroke", "symbolSize": 625, "symbolStrokeWidth": 1.5, "labelFontSize": 13, "rowPadding": 3, "padding": 0, "labelOffset": 3}}}},
    {"data": {"name": "rBlue"}, "mark": {"type": "line", "clip": true, "strokeWidth": 1},
     "encoding": {"color": {"datum": "NaI+PMT", "type": "nominal",
       "scale": {"domain": ["HPGe", "LaBr₃+ MAPD-3NM-II", "NaI+PMT"], "range": ["#1d6b40", "#ff0000", "#1010ee"]},
       "legend": {"title": null, "orient": "none", "legendX": 27, "legendY": -2, "symbolType": "stroke", "symbolSize": 625, "symbolStrokeWidth": 1.5, "labelFontSize": 13, "rowPadding": 3, "padding": 0, "labelOffset": 3}}}},
    {"data": {"name": "rGreen"}, "mark": {"type": "line", "clip": true, "strokeWidth": 1},
     "encoding": {"color": {"datum": "HPGe", "type": "nominal",
       "scale": {"domain": ["HPGe", "LaBr₃+ MAPD-3NM-II", "NaI+PMT"], "range": ["#1d6b40", "#ff0000", "#1010ee"]},
       "legend": {"title": null, "orient": "none", "legendX": 27, "legendY": -2, "symbolType": "stroke", "symbolSize": 625, "symbolStrokeWidth": 1.5, "labelFontSize": 13, "rowPadding": 3, "padding": 0, "labelOffset": 3}}}},
    {"data": {"name": "rArrows"}, "mark": {"type": "rule", "strokeWidth": 1},
     "encoding": {"x2": {"field": "E2"}, "y2": {"field": "v2"},
       "color": {"field": "s", "type": "nominal", "title": null, "scale": {"domain": ["HPGe", "LaBr₃+ MAPD-3NM-II", "NaI+PMT"], "range": ["#1d6b40", "#ff0000", "#1010ee"]},
         "legend": {"title": null, "orient": "none", "legendX": 27, "legendY": -2, "symbolType": "stroke", "symbolSize": 625, "symbolStrokeWidth": 1.5, "labelFontSize": 13, "rowPadding": 3, "padding": 0, "labelOffset": 3}}}},
    {"data": {"name": "rHeads"}, "mark": {"type": "point", "filled": true, "opacity": 1, "size": 22, "shape": "triangle-left", "angle": 330},
     "encoding": {"color": {"field": "s", "type": "nominal", "title": null, "scale": {"domain": ["HPGe", "LaBr₃+ MAPD-3NM-II", "NaI+PMT"], "range": ["#1d6b40", "#ff0000", "#1010ee"]},
         "legend": {"title": null, "orient": "none", "legendX": 27, "legendY": -2, "symbolType": "stroke", "symbolSize": 625, "symbolStrokeWidth": 1.5, "labelFontSize": 13, "rowPadding": 3, "padding": 0, "labelOffset": 3}}}},
    {"data": {"name": "rLabels"}, "mark": {"type": "text", "align": "left", "baseline": "middle", "fontSize": 12, "font": "Liberation Serif", "color": "black"},
     "encoding": {"text": {"field": "label"}}}
  ]
}
]
}
